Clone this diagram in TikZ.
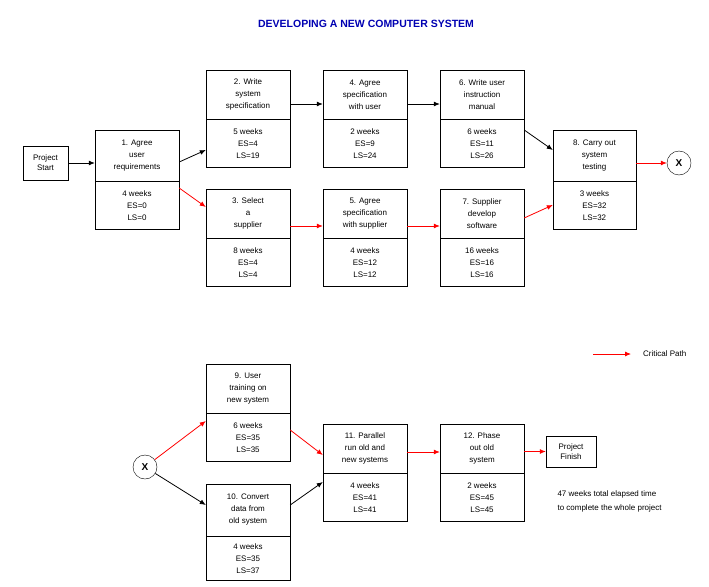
\documentclass[tikz,border=0pt]{standalone}
\usepackage{fontspec}
\setmainfont{Liberation Sans}
\usetikzlibrary{positioning,arrows.meta}

\begin{document}
\begin{tikzpicture}[x=1pt, y=-1pt, node distance=0pt,
    task/.style={rectangle, draw, minimum width=84pt, minimum height=49pt, align=center, font=\fontsize{8}{12}\selectfont, inner sep=1pt},
    info/.style={rectangle, draw, minimum width=84pt, minimum height=48pt, align=center, font=\fontsize{8}{12}\selectfont, inner sep=1pt},
    ends/.style={rectangle, draw, align=center, font=\fontsize{8}{10}\selectfont, inner sep=2pt},
    link/.style={circle, draw, minimum size=24pt, inner sep=0pt, font=\bfseries\fontsize{10}{12}\selectfont},
    arr/.style={-{Latex[length=6pt,width=5pt]}, thick},
    crit/.style={-{Latex[length=6pt,width=5pt]}, thick, red}]
\useasboundingbox (0,0) rectangle (709,586);

% Title
\node[font=\bfseries\fontsize{10.5}{12}\selectfont, text=blue!70!black] (title) at (366,24) {DEVELOPING A NEW COMPUTER SYSTEM};

% Upper network
\node[ends, minimum width=45pt, minimum height=34pt] (start) at (45.5,163) {Project\\Start};
\node[task, minimum height=51pt] (t1) at (137,155.5) {1. Agree\\user\\requirements};
\node[info, below=of t1] (d1) {4 weeks\\ES=0\\LS=0};
\node[task] (t2) at (248,94.5) {2. Write\\system\\specification};
\node[info, below=of t2] (d2) {5 weeks\\ES=4\\LS=19};
\node[task] (t4) at (365,94.5) {4. Agree\\specification\\with user};
\node[info, below=of t4] (d4) {2 weeks\\ES=9\\LS=24};
\node[task] (t6) at (482,94.5) {6. Write user\\instruction\\manual};
\node[info, below=of t6] (d6) {6 weeks\\ES=11\\LS=26};
\node[task] (t3) at (248,213.5) {3. Select\\a\\supplier};
\node[info, below=of t3] (d3) {8 weeks\\ES=4\\LS=4};
\node[task] (t5) at (365,213.5) {5. Agree\\specification\\with supplier};
\node[info, below=of t5] (d5) {4 weeks\\ES=12\\LS=12};
\node[task] (t7) at (482,213.5) {7. Supplier\\develop\\software};
\node[info, below=of t7] (d7) {16 weeks\\ES=16\\LS=16};
\node[task, minimum height=51pt, minimum width=83pt] (t8) at (594.5,155.5) {8. Carry out\\system\\testing};
\node[info, below=of t8, minimum width=83pt] (d8) {3 weeks\\ES=32\\LS=32};
\node[link] (x1) at (679,163) {X};

\draw[arr] (start.east) -- (t1.west |- start.east);
\draw[arr] (t1.east |- 0,162) -- (t2.west |- 0,150);
\draw[crit] (d1.east |- 0,188) -- (d3.west |- 0,207);
\draw[arr] (t2.east |- 0,104) -- (t4.west |- 0,104);
\draw[arr] (t4.east |- 0,104) -- (t6.west |- 0,104);
\draw[arr] (d6.east |- 0,130) -- (t8.west |- 0,150);
\draw[crit] (d3.east |- 0,226) -- (d5.west |- 0,226);
\draw[crit] (d5.east |- 0,226) -- (d7.west |- 0,226);
\draw[crit] (d7.east |- 0,218) -- (d8.west |- 0,205);
\draw[crit] (t8.east |- x1) -- (x1);

% Legend
\coordinate (legA) at (593,354);
\coordinate (legB) at (631,354);
\draw[crit] (legA) -- (legB);
\node[font=\fontsize{8}{9}\selectfont, anchor=west, inner sep=0pt] (leg) at (643,354) {Critical Path};

% Lower network
\node[link] (x2) at (145,467) {X};
\node[task] (t9) at (248,388.5) {9. User\\training on\\new system};
\node[info, below=of t9] (d9) {6 weeks\\ES=35\\LS=35};
\node[task, minimum height=52pt] (t10) at (248,510) {10. Convert\\data from\\old system};
\node[info, below=of t10, minimum height=44pt] (d10) {4 weeks\\ES=35\\LS=37};
\node[task] (t11) at (365,448.5) {11. Parallel\\run old and\\new systems};
\node[info, below=of t11] (d11) {4 weeks\\ES=41\\LS=41};
\node[task] (t12) at (482,448.5) {12. Phase\\out old\\system};
\node[info, below=of t12] (d12) {2 weeks\\ES=45\\LS=45};
\node[ends, minimum width=50pt, minimum height=31pt] (finish) at (571,451.5) {Project\\Finish};
\node[font=\fontsize{8}{14}\selectfont, align=left, anchor=north west] (total) at (554,487) {47 weeks total elapsed time\\to complete the whole project};

\draw[crit] (x2) -- (t9.west |- 0,421);
\draw[arr] (x2) -- (t10.west |- 0,505);
\draw[crit] (d9.east |- 0,430) -- (t11.west |- 0,455);
\draw[arr] (t10.east |- 0,505) -- (d11.west |- 0,482);
\draw[crit] (t11.east |- 0,452) -- (t12.west |- 0,452);
\draw[crit] (t12.east |- finish) -- (finish);
\end{tikzpicture}
\end{document}
